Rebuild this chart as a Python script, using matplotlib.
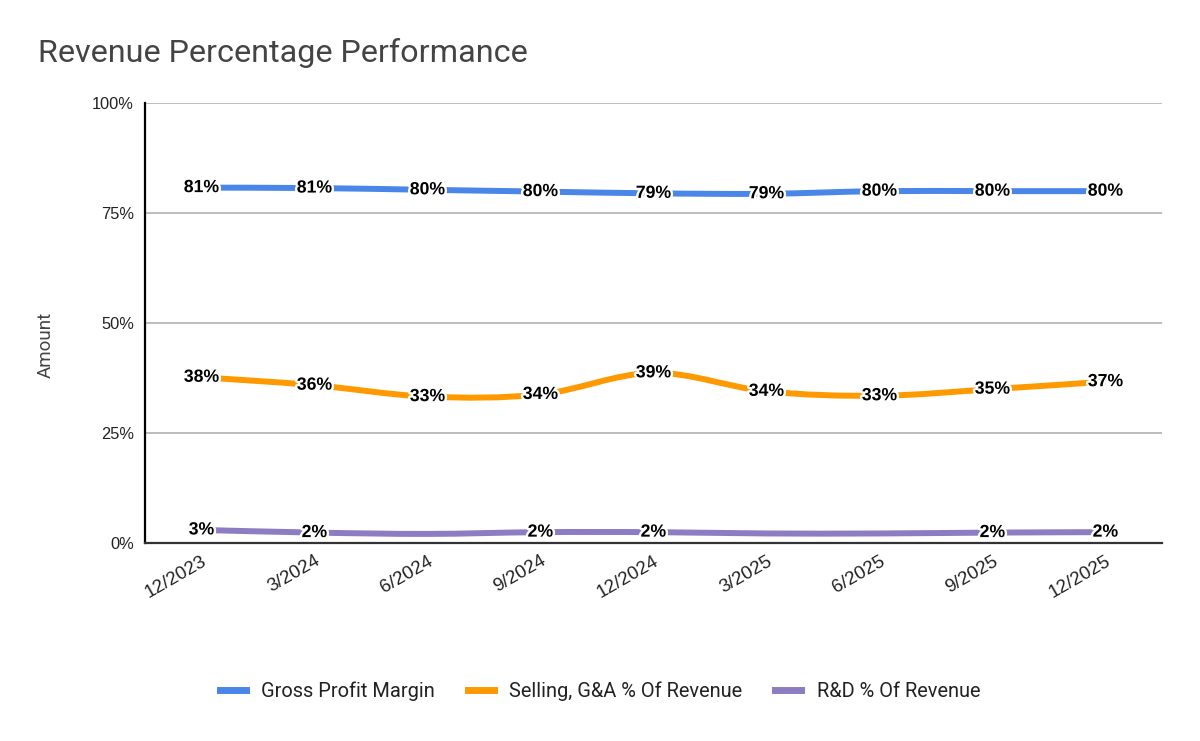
import numpy as np
import matplotlib.pyplot as plt
from matplotlib.path import Path
from matplotlib.patches import PathPatch
from matplotlib.lines import Line2D
import matplotlib.patheffects as pe

plt.rcParams['font.family'] = ['Liberation Sans', 'DejaVu Sans']

quarters = ['12/2023', '3/2024', '6/2024', '9/2024', '12/2024',
            '3/2025', '6/2025', '9/2025', '12/2025']
gross_margin = [80.7, 80.6, 80.2, 79.8, 79.4, 79.3, 79.9, 79.9, 79.9]
sga_pct = [37.6, 35.8, 33.2, 33.7, 38.6, 34.4, 33.4, 34.9, 36.6]
rnd_pct = [2.9, 2.3, 2.0, 2.4, 2.4, 2.1, 2.1, 2.3, 2.4]
# Google hides some of the purple labels
rnd_labelled = [0, 1, 3, 4, 7, 8]

series = [
    ('Gross Profit Margin', gross_margin, '#4a86e8', range(len(quarters))),
    ('Selling, G&A % Of Revenue', sga_pct, '#ff9900', range(len(quarters))),
    ('R&D % Of Revenue', rnd_pct, '#8e7cc3', rnd_labelled),
]


def smooth_path(xs, ys, k=1 / 6):
    pts = np.column_stack([xs, ys]).astype(float)
    n = len(pts)
    verts = [pts[0]]
    codes = [Path.MOVETO]
    for i in range(n - 1):
        p0 = pts[max(i - 1, 0)]
        p1 = pts[i]
        p2 = pts[i + 1]
        p3 = pts[min(i + 2, n - 1)]
        verts += [p1 + (p2 - p0) * k, p2 - (p3 - p1) * k, p2]
        codes += [Path.CURVE4] * 3
    return Path(verts, codes)


fig = plt.figure(figsize=(12, 7.41), dpi=100)
ax = fig.add_axes([0.1208, 0.2676, 0.8475, 0.5938])

x = np.arange(len(quarters))
handles = []
for name, vals, color, lab_idx in series:
    ax.add_patch(PathPatch(smooth_path(x, vals), fill=False, edgecolor=color,
                           lw=4.3, capstyle='butt', zorder=3))
    for i in lab_idx:
        ax.text(x[i], vals[i], '%d%%' % round(vals[i]), ha='center', va='center',
                fontsize=12.7, fontweight='bold', color='black', zorder=5,
                path_effects=[pe.withStroke(linewidth=3.5, foreground='white')])
    handles.append(Line2D([], [], color=color, lw=5, label=name))

ax.set_xlim(-0.5, len(quarters) - 0.5)
ax.set_ylim(0, 100)
ax.set_yticks([0, 25, 50, 75, 100])
ax.set_yticklabels(['0%', '25%', '50%', '75%', '100%'])
ax.set_xticks(x)
ax.set_xticklabels(quarters, rotation=30, ha='right', rotation_mode='anchor')
ax.tick_params(axis='both', length=0, colors='#222222')
ax.tick_params(axis='y', labelsize=11.8, pad=8)
ax.tick_params(axis='x', labelsize=13.5, pad=7)
ax.grid(axis='y', color='#b7b7b7', lw=1.3)
ax.set_axisbelow(True)
for s in ['top', 'right']:
    ax.spines[s].set_visible(False)
ax.spines['left'].set_color('black')
ax.spines['left'].set_linewidth(1.6)
ax.spines['bottom'].set_color('#333333')
ax.spines['bottom'].set_linewidth(1.6)

ax.set_ylabel('Amount', fontsize=13.5, color='#444444', family='Roboto')
ax.yaxis.set_label_coords(-0.089, 0.449)

fig.text(0.032, 0.928, 'Revenue Percentage Performance', fontsize=23.3,
         color='#444444', va='center', ha='left', family='Roboto')

fig.legend(handles=handles, loc='center', bbox_to_anchor=(0.5, 0.067), ncol=3,
           frameon=False, prop={'family': 'Roboto', 'size': 14.4},
           handlelength=1.3, columnspacing=1.65, handletextpad=0.77)
for t in fig.legends[0].get_texts():
    t.set_color('#222222')

fig.savefig('out.png', dpi=100)
